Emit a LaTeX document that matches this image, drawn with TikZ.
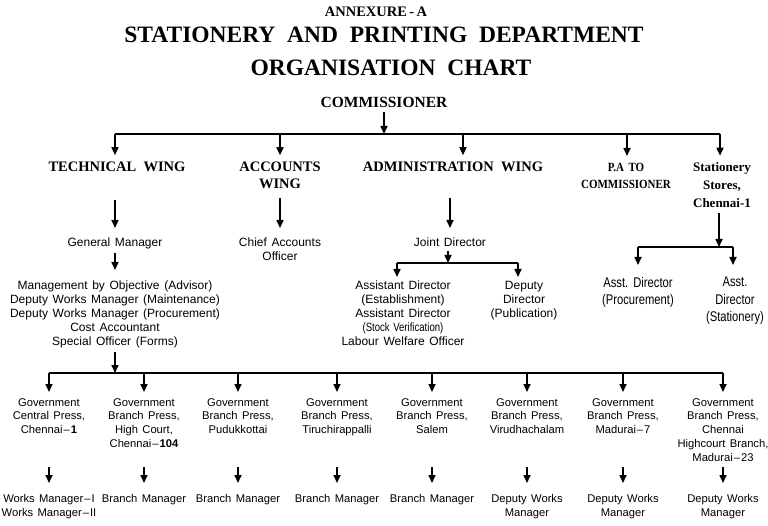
\documentclass[tikz,border=0pt]{standalone}
\usepackage{fontspec}
\setmainfont{Liberation Serif}
\newfontfamily\hdf[WordSpace=2.0]{Liberation Serif}
\newfontfamily\hdnf[FakeStretch=0.88,WordSpace=1.6]{Liberation Serif}
\newfontfamily\bodyf[WordSpace=1.7]{Liberation Sans}
\newfontfamily\smallf[WordSpace=1.4]{Liberation Sans}
\newfontfamily\narrowf[FakeStretch=0.8,WordSpace=1.3]{Liberation Sans}
\usetikzlibrary{arrows.meta}
\newcommand\myfs[2]{\fontsize{#1}{#2}\selectfont}
\tikzset{
  txt/.style={inner sep=0pt, align=center, anchor=north},
  hd/.style={txt, font=\hdf\bfseries\myfs{14.5}{17}},
  body/.style={txt, font=\bodyf\myfs{12}{14}},
  small/.style={txt, font=\smallf\myfs{11.2}{13.8}},
  nar/.style={txt, font=\narrowf\myfs{14}{17.5}},
  ln/.style={line width=1.6pt},
  arr/.style={line width=1.6pt, -{Triangle[length=8pt,width=7pt]}},
}
\begin{document}
\begin{tikzpicture}[x=1pt,y=-1pt]
\useasboundingbox[fill=white] (0,0) rectangle (768,526);

% titles
\node[txt, font=\hdf\bfseries\myfs{14.5}{17}] (ann) at (376,7) {ANNEXURE\,-\,A};
\node[txt, font=\hdf\bfseries\myfs{23.5}{27}] (t1) at (384,27) {STATIONERY AND PRINTING DEPARTMENT};
\node[txt, font=\hdf\bfseries\myfs{23.5}{27}] (t2) at (391,60) {ORGANISATION CHART};
\node[txt, font=\hdf\bfseries\myfs{15.5}{18}] (comm) at (384,97) {COMMISSIONER};

% wings
\node[hd] (tw) at (117,162.2) {TECHNICAL WING};
\node[hd] (aw) at (280,162.2) {ACCOUNTS\\WING};
\node[hd] (adw) at (453,162.2) {ADMINISTRATION WING};
\node[txt, font=\hdnf\bfseries\myfs{12.5}{17}] (pa) at (626,163) {P.A TO\\COMMISSIONER};
\node[txt, font=\hdf\bfseries\myfs{13}{18}] (ss) at (722,162.7) {Stationery\\Stores,\\Chennai-1};

% top bar
\coordinate (cj) at (384,134);
\coordinate (d1) at (115,134);
\coordinate (d2) at (280,134);
\coordinate (d3) at (463,134);
\coordinate (d4) at (627,134);
\coordinate (d5) at (720,134);
\draw[arr, shorten <=4pt] (comm.south) -- (cj);
\draw[ln] (d1) -- (d5);
\draw[arr, shorten >=7pt] (d1) -- (d1 |- tw.north);
\draw[arr, shorten >=7pt] (d2) -- (d2 |- aw.north);
\draw[arr, shorten >=7pt] (d3) -- (d3 |- adw.north);
\draw[arr, shorten >=7pt] (d4) -- (d4 |- pa.north);
\draw[arr, shorten >=7pt] (d5) -- (d5 |- ss.north);

% technical wing
\node[body] (gm) at (115,237.7) {General Manager};
\node[body] (tl) at (115,280.7) {Management by Objective (Advisor)\\Deputy Works Manager (Maintenance)\\Deputy Works Manager (Procurement)\\Cost Accountant\\Special Officer (Forms)};
\draw[arr, shorten <=28pt, shorten >=9.7pt] (gm.north |- tw.south) -- (gm.north);
\draw[arr, shorten <=4pt, shorten >=10.7pt] (gm.south) -- (tl.north);

% accounts wing
\node[body] (cao) at (280,237.7) {Chief Accounts\\Officer};
\draw[arr, shorten <=9pt, shorten >=9.7pt] (aw.south) -- (cao.north);

% administration wing
\node[body] (jd) at (450,237.7) {Joint Director};
\draw[arr, shorten <=26pt, shorten >=9.7pt] (jd.north |- adw.south) -- (jd.north);
\coordinate (aj) at (448,263);
\coordinate (al) at (397,263);
\coordinate (ar) at (518,263);
\node[body] (ad) at (403,280.7) {Assistant Director\\(Establishment)\\Assistant Director\\{\narrowf\myfs{12}{14}(Stock Verification)}\\Labour Welfare Officer};
\node[body] (dd) at (524,280.7) {Deputy\\Director\\(Publication)};
\draw[arr, shorten <=4pt] (aj |- jd.south) -- (aj);
\draw[ln] (al) -- (ar);
\draw[arr, shorten >=3.7pt] (al) -- (al |- ad.north);
\draw[arr, shorten >=3.7pt] (ar) -- (ar |- dd.north);

% stationery stores
\coordinate (sj) at (719,247);
\coordinate (sl) at (638,247);
\coordinate (sr) at (733,247);
\node[nar] (adp) at (638,277) {Asst. Director\\(Procurement)};
\node[nar] (ads) at (735,277) {Asst.\\Director\\(Stationery)};
\draw[arr, shorten <=4.7pt] (sj |- ss.south) -- (sj);
\draw[ln] (sl) -- (sr);
\draw[arr, shorten >=12pt] (sl) -- (sl |- adp.north);
\draw[arr, shorten >=12pt] (sr) -- (sr |- ads.north);

% presses
\coordinate (bj) at (115,373);
\coordinate (bl) at (49,373);
\coordinate (br) at (723,373);
\draw[arr, shorten <=4pt] (tl.south) -- (bj);
\draw[ln] (bl) -- (br);

\node[small] (p1) at (49,398) {Government\\Central Press,\\Chennai\kern1pt–\kern1pt\textbf{1}};
\node[small] (p2) at (144,398) {Government\\Branch Press,\\High Court,\\Chennai\kern1pt–\kern1pt\textbf{104}};
\node[small] (p3) at (238,398) {Government\\Branch Press,\\Pudukkottai};
\node[small] (p4) at (337,398) {Government\\Branch Press,\\Tiruchirappalli};
\node[small] (p5) at (432,398) {Government\\Branch Press,\\Salem};
\node[small] (p6) at (527,398) {Government\\Branch Press,\\Virudhachalam};
\node[small] (p7) at (623,398) {Government\\Branch Press,\\Madurai\kern1pt–\kern1pt7};
\node[small] (p8) at (723,398) {Government\\Branch Press,\\Chennai\\Highcourt Branch,\\Madurai\kern1pt–\kern1pt23};

\node[small] (m1) at (49,494) {Works Manager\kern1pt–\kern1pt I\\Works Manager\kern1pt–\kern1pt II};
\node[small] (m2) at (144,494) {Branch Manager};
\node[small] (m3) at (238,494) {Branch Manager};
\node[small] (m4) at (337,494) {Branch Manager};
\node[small] (m5) at (432,494) {Branch Manager};
\node[small] (m6) at (527,494) {Deputy Works\\Manager};
\node[small] (m7) at (623,494) {Deputy Works\\Manager};
\node[small] (m8) at (723,494) {Deputy Works\\Manager};

\foreach \i in {1,...,8}{
  \draw[arr, shorten >=6pt] (bl -| p\i.north) -- (p\i.north);
  \draw[arr, shorten <=69pt, shorten >=11pt] (p\i.north) -- (m\i.north);
}
\end{tikzpicture}
\end{document}
